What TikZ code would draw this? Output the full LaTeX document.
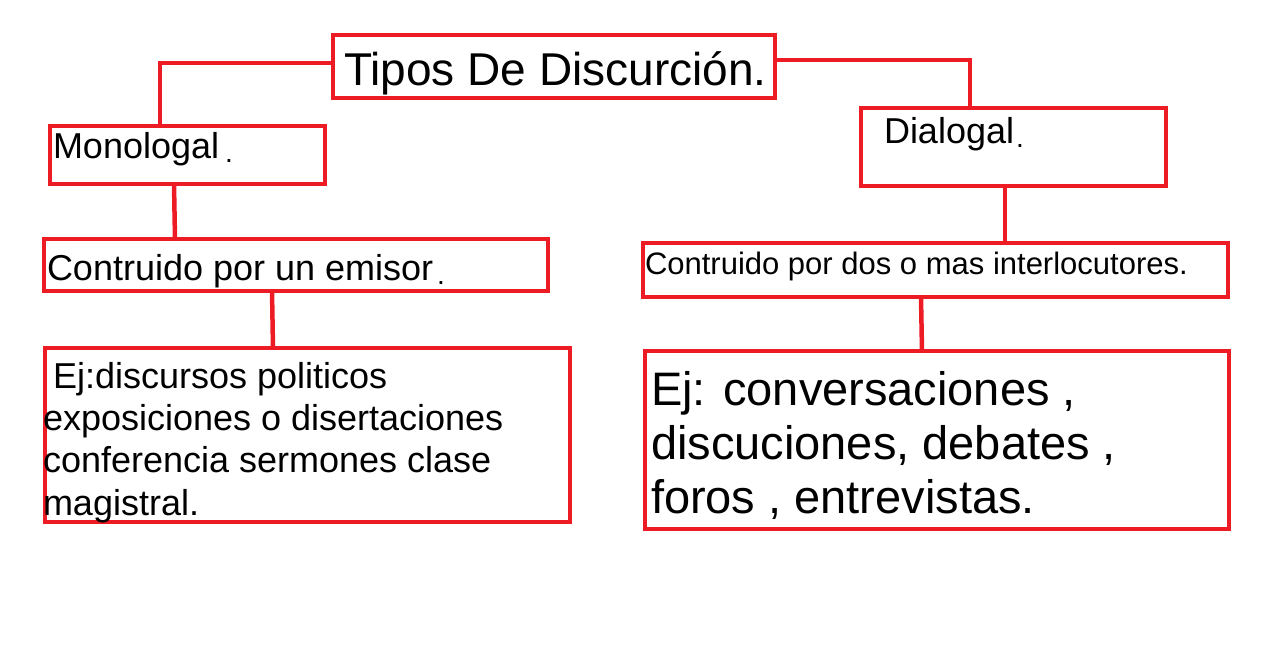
\documentclass[tikz,border=0pt]{standalone}
\usepackage{fontspec}
\setmainfont{Liberation Sans}
\usetikzlibrary{positioning}
\definecolor{paintred}{RGB}{237,28,36}
% small loose full stop, as typed in the boxes
\newcommand{\looseDot}{\raisebox{-4pt}{\fontsize{28}{28}\selectfont .}}

\begin{document}
\begin{tikzpicture}
    [x=1pt, y=-1pt, outer sep = 0pt,
    box/.style={rectangle, draw=paintred, line width=4.5pt, inner sep=0pt},
    link/.style={draw=paintred, line width=4.5pt},
    txt/.style={anchor=base west, inner sep=0pt, align=left}]

    \useasboundingbox (0,0) rectangle (1274,645);

    % boxes
    \node [box, minimum width=442pt, minimum height=63pt] (tipos) at (554,66.5) {};
    \node [box, minimum width=275pt, minimum height=58pt] (mono) at (187.5,155) {};
    \node [box, minimum width=305pt, minimum height=78pt] (dial) at (1013.5,147) {};
    \node [box, minimum width=504pt, minimum height=52pt] (monoemisor) at (296,265) {};
    \node [box, minimum width=585pt, minimum height=54pt] (dialinter) at (935.5,270) {};
    \node [box, minimum width=525pt, minimum height=174pt] (monoej) at (307.5,435) {};
    \node [box, minimum width=584pt, minimum height=178pt] (dialej) at (937,440) {};

    % texts (base of a multi-line text is its last line)
    \node [txt, font=\fontsize{46}{46}\selectfont] (tipos_txt) at (344,85)
    {Tipos De Discurción.};
    \node [txt, font=\fontsize{36}{36}\selectfont] (mono_txt) at (53,158)
    {Monologal\hspace{6pt}\looseDot};
    \node [txt, font=\fontsize{36}{36}\selectfont] (dial_txt) at (884,143)
    {Dialogal\hspace{2pt}\looseDot};
    \node [txt, font=\fontsize{36}{36}\selectfont] (monoemisor_txt) at (47,280)
    {Contruido por un emisor\hspace{4pt}\looseDot};
    \node [txt, font=\fontsize{31}{31}\selectfont] (dialinter_txt) at (645,274)
    {Contruido por dos o mas interlocutores.};
    \node [txt, font=\fontsize{36}{42.3}\selectfont] (monoej_txt) at (43,515)
    {\hspace{10pt}Ej:discursos politicos\\
      exposiciones o disertaciones\\
      conferencia sermones clase\\
      magistral.};
    \node [txt, font=\fontsize{47}{54}\selectfont] (dialej_txt) at (651,513)
    {Ej: conversaciones ,\\
      discuciones, debates ,\\
      foros , entrevistas.};

    % connectors
    \draw [link] ([yshift=3.5pt]tipos.west) -| ([xshift=110pt]mono.north west);
    \draw [link] ([yshift=6.5pt]tipos.east) -| ([xshift=109pt]dial.north west);
    \draw [link] ([xshift=124pt]mono.south west) -- ([xshift=131pt]monoemisor.north west);
    \draw [link] ([xshift=228pt]monoemisor.south west) -- ([xshift=228pt]monoej.north west);
    \draw [link] ([xshift=144pt]dial.south west) -- ([xshift=362pt]dialinter.north west);
    \draw [link] ([xshift=278pt]dialinter.south west) -- ([xshift=277pt]dialej.north west);
  \end{tikzpicture}
\end{document}
